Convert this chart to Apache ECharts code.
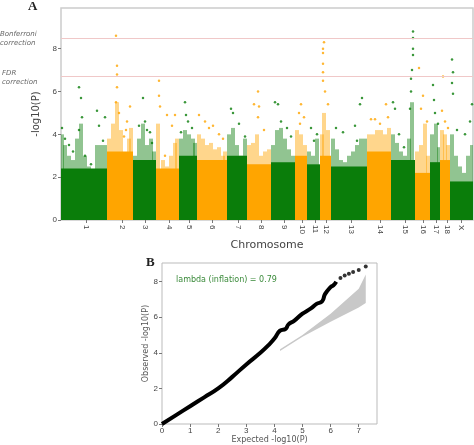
<!DOCTYPE html><html><head><meta charset="utf-8">
<script src="https://cdn.jsdelivr.net/npm/echarts@6/dist/echarts.min.js"></script>
<style>html,body{margin:0;padding:0;background:#fff}#c{width:474px;height:445px}</style></head><body><div id="c"></div>
<script>
const chromNames=['1','2','3','4','5','6','7','8','9','10','11','12','13','14','15','16','17','18','X'];
const chromStart=[0,46,72,95,118,136,166,186,210,234,246,259,270,306,330,354,369,379,389];
const chromEnd=[46,72,95,118,136,166,186,210,234,246,259,270,306,330,354,369,379,389,412];
const chromLabelPos=[25,61,84,108,128,151,177,200,223,241,254,265,290,319,344,362,375,386,400];
const chromBase=[2.4,3.2,2.8,2.4,3.0,2.8,3.0,2.6,2.7,3.0,2.6,3.0,2.5,3.2,2.8,2.2,2.7,2.8,1.8];
// upper edge of the scattered cloud, read every few units [position, -log10(P)]
const cloudEdge=[[1,4.0],[4,3.5],[8,3.0],[12,2.8],[16,3.8],[20,4.5],[24,3.0],[28,2.5],[32,2.0],[36,3.5],[40,3.5],[44,3.5],
[48,3.8],[52,4.5],[56,5.5],[60,4.2],[64,3.0],[68,3.8],[70,4.3],
[74,3.0],[78,3.8],[82,4.5],[86,3.5],[90,3.8],[93,3.2],
[97,4.5],[102,2.8],[106,2.5],[110,3.0],[114,3.6],[116,3.8],
[120,3.8],[124,4.2],[128,4.0],[132,3.8],[134,3.6],
[138,4.0],[142,3.8],[146,3.5],[150,3.6],[154,3.3],[158,3.4],[162,3.0],[164,3.2],
[168,4.0],[172,4.3],[176,3.5],[180,3.0],[184,3.8],
[188,3.5],[192,3.6],[196,4.0],[200,3.0],[204,3.2],[208,3.3],
[212,3.5],[216,4.2],[220,4.3],[224,3.8],[228,3.3],[232,3.0],
[236,4.2],[240,4.0],[244,3.5],
[248,3.2],[252,3.0],[256,3.8],
[261,4.0],[263,5.0],[267,4.2],
[272,3.8],[276,3.3],[280,2.8],[284,2.7],[288,3.0],[292,3.2],[296,3.5],[300,3.8],[304,3.8],
[308,4.0],[312,4.0],[316,4.2],[320,4.2],[324,4.0],[328,4.3],
[332,4.0],[336,3.6],[340,3.2],[344,3.0],[348,3.8],[351,5.5],
[356,3.2],[360,3.5],[364,4.5],[367,3.0],
[371,4.0],[375,4.5],[378,3.4],
[381,4.2],[384,4.0],[387,3.5],
[391,4.0],[395,3.0],[399,2.5],[403,2.2],[407,3.0],[411,3.5]];
// hand-read notable points [position, -log10(P)]
const peaks=[[1,4.3],[4,3.8],[8,3.5],[12,3.2],[18,4.2],[20,5.7],[18,6.2],[21,4.8],[24,3.0],[30,2.6],[36,5.1],[38,4.4],[44,4.8],[42,3.7],
[55,5.5],[56,6.2],[56,6.8],[56,7.2],[55,8.6],[58,5.0],[63,3.9],[66,4.6],[69,5.3],[65,4.2],
[82,5.7],[84,4.6],[86,4.2],[89,4.1],[91,3.6],[78,4.4],
[98,6.5],[98,5.8],[99,5.3],[106,4.9],[111,4.4],[114,4.9],[104,3.0],
[124,5.5],[125,4.9],[127,4.6],[120,4.1],[131,4.3],
[138,4.9],[144,4.6],[148,4.3],[152,4.4],[158,4.0],[162,3.8],
[170,5.2],[172,5.0],[178,4.5],[184,3.9],
[193,5.4],[197,6.0],[198,5.3],[197,4.8],[203,4.2],
[214,5.5],[217,5.4],[220,4.6],[226,4.3],[230,3.9],
[240,5.4],[238,5.0],[243,4.8],[239,4.5],
[250,4.3],[256,4.0],[253,3.7],
[262,6.9],[262,7.3],[262,7.8],[262,8.0],[263,8.3],[262,6.5],[264,6.0],[267,5.4],
[275,4.3],[282,4.1],[294,4.4],[299,5.4],[301,5.7],[296,3.7],
[310,4.7],[314,4.7],[319,4.5],[325,5.4],[327,4.8],
[332,5.5],[334,5.2],[338,4.0],[343,3.4],[349,5.2],[350,6.0],[351,7.0],[352,7.7],[352,8.0],[352,8.5],[352,8.8],[350,6.6],
[360,5.2],[362,5.8],[358,7.1],[366,4.6],
[372,6.3],[373,5.6],[377,4.5],[374,5.0],
[381,5.1],[384,4.6],[382,6.7],[387,4.3],
[391,6.4],[392,6.9],[391,7.5],[392,5.9],[396,4.2],[404,4.0],[409,4.6],[411,5.4]];
const thresholds=[8.5,6.7];
const qqX=[0,0.5,1,1.5,2,2.5,3,3.5,3.8,4,4.2,4.4,4.5,4.7,5,5.3,5.5,5.7,5.8,6,6.1,6.2];
const qqY=[0,0.5,1,1.5,2,2.65,3.35,4.0,4.45,4.8,5.25,5.35,5.6,5.8,6.2,6.5,6.75,6.9,7.3,7.7,7.8,8.0];
const qqTailX=[6.35,6.5,6.65,6.8,7.0,7.25];
const qqTailY=[8.2,8.35,8.45,8.55,8.65,8.85];
const bandX=[4.2,5,6,7,7.25];
const bandLow=[4.1,4.9,5.75,6.55,6.8];
const bandHigh=[4.2,5.0,6.2,7.6,8.4];
const lambdaText='lambda (inflation) = 0.79';

const GREEN='#0a7d0a',ORANGE='#ffa500';
function chromOf(x){for(let i=0;i<chromStart.length;i++){if(x>=chromStart[i]&&x<chromEnd[i])return i;}return 18;}
const rects=chromNames.map((n,i)=>[chromStart[i],chromEnd[i],chromBase[i],i]);
const cloud=cloudEdge.map(p=>[p[0],p[1],chromOf(p[0])]);
const peakData=peaks.map(p=>({value:p,itemStyle:{color:chromOf(p[0])%2?ORANGE:GREEN}}));
const band=bandX.map((x,i)=>[x,bandLow[i]]).concat(bandX.map((x,i)=>[x,bandHigh[i]]).reverse());

const chart=echarts.init(document.getElementById('c'));
chart.setOption({
 animation:false,
 grid:[{left:61,top:8,width:412,height:212,show:true,borderColor:'#ccc',borderWidth:1.5},
       {left:162,top:263,width:215,height:162,show:true,borderColor:'#bbb',borderWidth:1}],
 xAxis:[{gridIndex:0,type:'value',min:0,max:412,splitLine:{show:false},axisLine:{show:false},
   axisTick:{show:true,customValues:chromLabelPos,length:3,lineStyle:{color:'#777'}},
   axisLabel:{customValues:chromLabelPos,rotate:-90,fontSize:8,color:'#444',margin:5,formatter:v=>chromNames[chromLabelPos.indexOf(v)]||''},
   name:'Chromosome',nameLocation:'middle',nameGap:20,nameTextStyle:{fontSize:11,color:'#444',fontFamily:'DejaVu Sans'}},
  {gridIndex:1,type:'value',min:0,max:7.65,interval:1,splitLine:{show:false},axisLine:{show:false},
   axisTick:{length:3,lineStyle:{color:'#777'}},axisLabel:{fontSize:8,color:'#444',margin:3,showMaxLabel:false},
   name:'Expected -log10(P)',nameLocation:'middle',nameGap:12,nameTextStyle:{fontSize:8,color:'#555',fontFamily:'DejaVu Sans'}}],
 yAxis:[{gridIndex:0,type:'value',min:0,max:9.9,interval:2,splitLine:{show:false},axisLine:{show:false},
   axisTick:{length:3,lineStyle:{color:'#777'}},axisLabel:{fontSize:8,color:'#444',margin:4,showMaxLabel:false},
   name:'-log10(P)',nameLocation:'middle',nameGap:13,nameTextStyle:{fontSize:10,color:'#444',fontFamily:'DejaVu Sans'}},
  {gridIndex:1,type:'value',min:0,max:9.05,interval:2,splitLine:{show:false},axisLine:{show:false},
   axisTick:{length:3,lineStyle:{color:'#777'}},axisLabel:{fontSize:8,color:'#444',margin:4,showMaxLabel:false},
   name:'Observed -log10(P)',nameLocation:'middle',nameGap:12,nameTextStyle:{fontSize:8,color:'#555',fontFamily:'DejaVu Sans'}}],
 series:[
  {type:'custom',xAxisIndex:0,yAxisIndex:0,data:cloud,renderItem:(p,api)=>{
     const i=api.value(2),x=api.value(0);
     const x0=Math.max(chromStart[i],x-2),x1=Math.min(chromEnd[i],x+2);
     const a=api.coord([x0,api.value(1)]),b=api.coord([x1,0]);
     return {type:'rect',shape:{x:a[0],y:a[1],width:b[0]-a[0],height:b[1]-a[1]},style:{fill:i%2?ORANGE:GREEN,opacity:0.45}};}},
  {type:'custom',xAxisIndex:0,yAxisIndex:0,data:rects,renderItem:(p,api)=>{
     const a=api.coord([api.value(0),api.value(2)]),b=api.coord([api.value(1),0]);
     return {type:'rect',shape:{x:a[0],y:a[1],width:b[0]-a[0],height:b[1]-a[1]},style:{fill:api.value(3)%2?ORANGE:GREEN}};}},
  {type:'scatter',xAxisIndex:0,yAxisIndex:0,symbolSize:2.5,data:peakData},
  {type:'line',xAxisIndex:0,yAxisIndex:0,data:[],markLine:{silent:true,symbol:'none',label:{show:false},
     lineStyle:{color:'#f0c8c8',type:'solid',width:1},data:thresholds.map(t=>({yAxis:t}))}},
  {type:'custom',xAxisIndex:1,yAxisIndex:1,data:[0],renderItem:(p,api)=>({type:'polygon',shape:{points:band.map(q=>api.coord(q))},style:{fill:'#c8c8c8'}})},
  {type:'line',xAxisIndex:1,yAxisIndex:1,data:qqX.map((x,i)=>[x,qqY[i]]),showSymbol:false,lineStyle:{color:'#000',width:4},smooth:true},
  {type:'scatter',xAxisIndex:1,yAxisIndex:1,symbolSize:4,itemStyle:{color:'#000'},data:qqTailX.map((x,i)=>[x,qqTailY[i]])}
 ],
 graphic:[
  {type:'text',left:28,top:0,style:{text:'A',font:'bold 13px "Liberation Serif"',fill:'#222'}},
  {type:'text',left:0,top:30,style:{text:'Bonferroni\ncorrection',font:'italic 7px "DejaVu Sans"',fill:'#666',lineHeight:9}},
  {type:'text',left:2,top:69,style:{text:'FDR\ncorrection',font:'italic 7px "DejaVu Sans"',fill:'#666',lineHeight:9}},
  {type:'text',left:146,top:256,style:{text:'B',font:'bold 13px "Liberation Serif"',fill:'#222'}},
  {type:'text',left:176,top:276,style:{text:lambdaText,font:'8px "DejaVu Sans"',fill:'#3a8a3a'}}
 ]
});
</script></body></html>
